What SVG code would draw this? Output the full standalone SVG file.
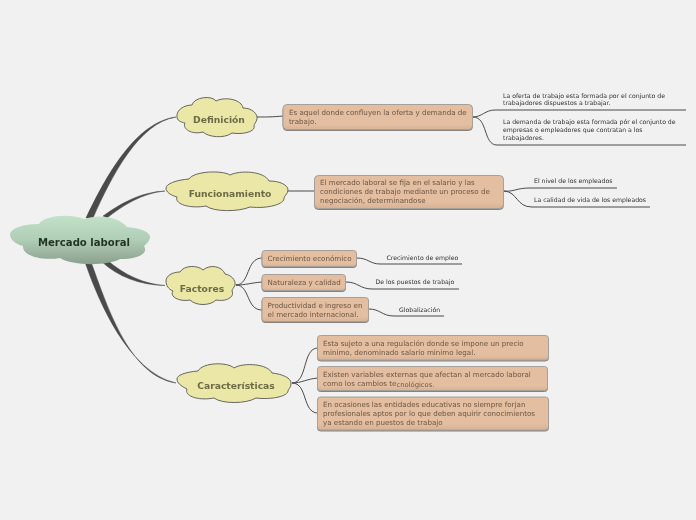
<svg xmlns="http://www.w3.org/2000/svg" width="696" height="520" viewBox="0 0 696 520">
<style>
.bg{fill:#f1f1f1}
.cl{fill:#ebe7a6;stroke:#66665f;stroke-width:1}
.t{font-family:"DejaVu Sans",Verdana,sans-serif;opacity:.99}
.h{font-size:9.2px;font-weight:bold;fill:#6b6a45;text-anchor:middle}
.b{font-size:7.14px;fill:#6a5442}
.l{font-size:6.17px;fill:#2c2c2c}
.bx{fill:url(#bg);stroke:#a5a09a;stroke-width:1;filter:url(#ds)}
.c{fill:none;stroke:#4a4a4a;stroke-width:1}
.th{fill:#4a4a4a;stroke:#4a4a4a;stroke-width:.5}
</style>
<defs>
<linearGradient id="mg" x1="0" y1="0" x2="0" y2="1"><stop offset="0" stop-color="#c2e2c8"/><stop offset=".5" stop-color="#b0cdb5"/><stop offset="1" stop-color="#8ba08e"/></linearGradient>
<linearGradient id="bg" x1="0" y1="0" x2="0" y2="1"><stop offset="0" stop-color="#e3bea0"/><stop offset=".8" stop-color="#e3bea0"/><stop offset="1" stop-color="#d8b294"/></linearGradient>
<filter id="ds" x="-5%" y="-15%" width="110%" height="135%"><feDropShadow dx="0" dy="1" stdDeviation=".7" flood-color="#555" flood-opacity=".7"/></filter>
</defs>
<rect class="bg" width="696" height="520"/>
<g id="connectors">
<path class="th" d="M86 218C105 178 135 122 176 117C139 123 112 175 93 218Z"/>
<path class="th" d="M103 216C120 204 140 192 165 191C142 193 122 206 107 218Z"/>
<path class="th" d="M101 261C118 277 140 285 165 285.500C145 284 125 276 106 259Z"/>
<path class="th" d="M85 262C98 300 128 372 176 383C128 376 106 302 91 262Z"/>
<path class="c" d="M257 117C268 117 272 117 283 116"/>
<path class="c" d="M288 191C298 191 304 191 314 191"/>
<path class="c" d="M473 117C482 117 485 110 495 110L686 110"/>
<path class="c" d="M473 117C488 117 483 145 497 145L686 145"/>
<path class="c" d="M504 191C514 192 516 188 530 188L617 188"/>
<path class="c" d="M504 191C518 192 516 207 532 207L650 207"/>
<path class="c" d="M236 285C250 285 246 258 262 258"/>
<path class="c" d="M236 285C246 285 250 283 262 282"/>
<path class="c" d="M236 285C250 285 246 310 262 310"/>
<path class="c" d="M357 258C368 258 370 264 380 264L462 264"/>
<path class="c" d="M346 282C358 282 360 289 372 289L459 289"/>
<path class="c" d="M369 309C380 309 382 316 394 316L444 316"/>
<path class="c" d="M292 383C308 383 302 348 318 348"/>
<path class="c" d="M292 383C302 383 306 379 318 378"/>
<path class="c" d="M292 383C308 383 302 413 318 413"/>
</g>
<g id="root">
<path fill="url(#mg)" d="M10 234C12 227 26 224 39 224C44 216 68 213 84 219C98 214 118 216 127 227C138 228 151 231 150 238C149 242 146 244 144 246C148 252 142 259 120 259C108 266 72 266 60 258C42 261 22 256 23 246C16 244 10 240 10 234Z"/>
<text class="t" x="84" y="246" font-size="10.1" font-weight="bold" fill="#1f3324" text-anchor="middle">Mercado laboral</text>
</g>
<g id="definicion">
<path class="cl" d="M177 117C176 110 184 105 192 105C194 97 212 95 216 101C226 96 242 100 243 108C252 108 258 114 257 119C256 123 254 124 254 126C256 131 244 135 232 133C224 139 208 137 203 132C192 135 182 129 185 123C180 122 177 120 177 117Z"/>
<text class="t h" x="219" y="123">Definición</text>
</g>
<g id="funcionamiento">
<path class="cl" d="M166 188C166 184 176 180 189 179C194 171 222 170 230 175C240 170 264 171 269 181C280 181 288 185 288 190C288 194 284 196 284 198C285 204 268 209 250 207C238 212 214 212 206 206C190 209 174 204 177 197C170 195 166 192 166 188Z"/>
<text class="t h" x="230" y="197">Funcionamiento</text>
</g>
<g id="factores">
<path class="cl" d="M166 281C166 276 172 272 180 272C184 265 198 265 203 270C210 264 222 266 225 274C231 275 236 280 235 285C234 288 232 289 232 291C235 297 226 302 216 300C210 306 196 306 190 300C180 302 169 297 173 291C168 289 166 285 166 281Z"/>
<text class="t h" x="202" y="292">Factores</text>
</g>
<g id="caracteristicas">
<path class="cl" d="M177 379C177 375 186 372 198 371C203 362 228 362 234 368C244 362 268 364 272 373C282 374 292 378 291 384C291 388 288 389 288 391C288 396 272 400 256 398C246 404 222 404 214 398C198 401 184 396 187 389C181 386 177 383 177 379Z"/>
<text class="t h" x="236" y="389">Características</text>
</g>
<g id="b1"><rect class="bx" x="283" y="104.500" width="189.500" height="25" rx="4"/><text class="t b" x="289" y="115">Es aquel donde confluyen la oferta y demanda de</text><text class="t b" x="289" y="124">trabajo.</text></g>
<g id="b2"><rect class="bx" x="314.500" y="175.500" width="189" height="33" rx="4"/><text class="t b" x="320" y="185">El mercado laboral se fija en el salario y las</text><text class="t b" x="320" y="194">condiciones de trabajo mediante un proceso de</text><text class="t b" x="320" y="203">negociación, determinandose</text></g>
<g id="b3"><rect class="bx" x="262" y="250.500" width="94.500" height="16" rx="3"/><text class="t b" x="267.500" y="261">Crecimiento económico</text></g>
<g id="b4"><rect class="bx" x="262" y="274.500" width="83.500" height="16" rx="3"/><text class="t b" x="267.500" y="285">Naturaleza y calidad</text></g>
<g id="b5"><rect class="bx" x="262" y="297.500" width="106.500" height="24" rx="3"/><text class="t b" x="267.500" y="308">Productividad e ingreso en</text><text class="t b" x="267.500" y="317">el mercado internacional.</text></g>
<g id="b6"><rect class="bx" x="317.500" y="335.500" width="231" height="24.500" rx="3"/><text class="t b" x="323" y="346">Esta sujeto a una regulación donde se impone un precio</text><text class="t b" x="323" y="355">minimo, denominado salario minimo legal.</text></g>
<g id="b7"><rect class="bx" x="317.500" y="366.500" width="230" height="24" rx="3"/><text class="t b" x="323" y="377">Existen variables externas que afectan al mercado laboral</text><text class="t b" x="323" y="386">como los cambios te<tspan font-size="6.8" dy=".5">cnológicos.</tspan></text></g>
<g id="b8"><rect class="bx" x="317.500" y="397" width="231" height="33" rx="3"/><text class="t b" x="323" y="407">En ocasiones las entidades educativas no siempre forjan</text><text class="t b" x="323" y="416">profesionales aptos por lo que deben aquirir conocimientos</text><text class="t b" x="323" y="425">ya estando en puestos de trabajo</text></g>
<g id="leaves">
<text class="t l" x="503" y="98">La oferta de trabajo esta formada por el conjunto de</text>
<text class="t l" x="503" y="105">trabajadores dispuestos a trabajar.</text>
<text class="t l" x="503" y="124">La demanda de trabajo esta formada pór el conjunto de</text>
<text class="t l" x="503" y="132">empresas o empleadores que contratan a los</text>
<text class="t l" x="503" y="140">trabajadores.</text>
<text class="t l" x="534" y="183">El nivel de los empleados</text>
<text class="t l" x="534" y="202">La calidad de vida de los empleados</text>
<text class="t l" x="386.500" y="260">Crecimiento de empleo</text>
<text class="t l" x="375.500" y="284">De los puestos de trabajo</text>
<text class="t l" x="399" y="312">Globalización</text>
</g>
</svg>
